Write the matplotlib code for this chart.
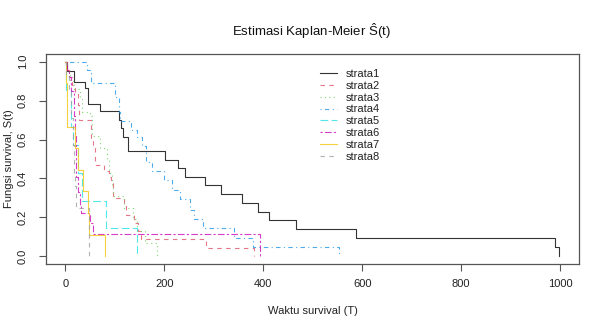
"""Kaplan-Meier curves per stratum."""

import matplotlib
matplotlib.use('Agg')
import matplotlib.pyplot as plt

plt.rcParams['font.family'] = ['Liberation Sans', 'DejaVu Sans']
plt.rcParams['mathtext.fontset'] = 'custom'
plt.rcParams['mathtext.rm'] = 'Liberation Sans'
plt.rcParams['mathtext.it'] = 'Liberation Sans'

# event times and survival after each step, one pair per stratum
t1 = [3, 17, 40, 45, 46, 71, 109, 112, 117, 126, 127, 201, 228, 242, 283, 314,
      357, 389, 411, 467, 587, 989, 998]
s1 = [0.955, 0.898, 0.864, 0.82, 0.784, 0.745, 0.70, 0.657, 0.615, 0.575, 0.54,
      0.497, 0.455, 0.41, 0.364, 0.318, 0.273, 0.229, 0.184, 0.138, 0.092, 0.046, 0.0]

t2 = [3, 8, 14, 20, 25, 28, 52, 56, 61, 79, 88, 92, 96, 118, 123, 138, 146, 153, 284, 382]
s2 = [0.96, 0.92, 0.88, 0.84, 0.78, 0.70, 0.607, 0.565, 0.47, 0.437, 0.41, 0.38, 0.30,
      0.258, 0.212, 0.172, 0.13, 0.087, 0.044, 0.0]

t3 = [3, 10, 17, 29, 34, 50, 54, 71, 84, 89, 94, 96, 118, 136, 145, 162, 185]
s3 = [0.95, 0.9, 0.86, 0.82, 0.744, 0.719, 0.616, 0.556, 0.497, 0.43, 0.36, 0.31,
      0.25, 0.19, 0.13, 0.07, 0.0]

t4 = [44, 52, 101, 109, 111, 133, 145, 155, 163, 176, 199, 216, 231, 251, 261, 278,
      340, 380, 554]
s4 = [0.957, 0.889, 0.82, 0.744, 0.698, 0.65, 0.611, 0.565, 0.483, 0.437, 0.39, 0.34,
      0.292, 0.24, 0.193, 0.147, 0.096, 0.05, 0.0]

t5 = [2, 12, 15, 25, 34, 82, 145]
s5 = [0.857, 0.667, 0.571, 0.429, 0.286, 0.143, 0.0]

t6 = [3, 8, 11, 17, 19, 21, 22, 25, 29, 32, 50, 55, 393]
s6 = [0.96, 0.92, 0.85, 0.72, 0.62, 0.52, 0.41, 0.33, 0.26, 0.22, 0.17, 0.113, 0.0]

t7 = [1, 3, 4, 19, 25, 35, 46, 48, 79.5]
s7 = [0.889, 0.778, 0.667, 0.556, 0.444, 0.333, 0.222, 0.111, 0.0]

t8 = [2, 8, 12, 15, 17, 19, 21, 47]
s8 = [0.93, 0.86, 0.71, 0.57, 0.43, 0.36, 0.25, 0.0]

labels = ['strata1', 'strata2', 'strata3', 'strata4',
          'strata5', 'strata6', 'strata7', 'strata8']

# R default palette and lty 1..6,1,2
colors = ['#000000', '#DF536B', '#61D04F', '#2297E6',
          '#28E2E5', '#CD0BBC', '#F5C710', '#9E9E9E']
styles = ['-', (0, (4, 4)), (0, (1, 3)), (0, (1, 3, 4, 3)),
          (0, (7, 3)), (0, (2, 2, 6, 2)), '-', (0, (4, 4))]

fig = plt.figure(figsize=(6.02, 3.32), dpi=100)
ax = fig.add_axes([0.0764, 0.2048, 0.8854, 0.6325])

all_t = [t1, t2, t3, t4, t5, t6, t7, t8]
all_s = [s1, s2, s3, s4, s5, s6, s7, s8]
for t, s, c, ls, lab in zip(all_t, all_s, colors, styles, labels):
  ax.step([0] + t, [1.0] + s, where='post', color=c, linestyle=ls,
          linewidth=0.8, alpha=0.8, label=lab)

ax.set_xlim(-39, 1038)
ax.set_ylim(-0.04, 1.04)
ax.set_xticks([0, 200, 400, 600, 800, 1000])
ax.set_yticks([0.0, 0.2, 0.4, 0.6, 0.8, 1.0])
ax.set_yticklabels(['0.0', '0.2', '0.4', '0.6', '0.8', '1.0'], rotation=90, va='center')
ax.tick_params(length=5, width=0.8, labelsize=8, color='#555555', labelcolor='#222222')
ax.tick_params(axis='x', pad=6)
ax.tick_params(axis='y', pad=8)
for sp in ax.spines.values():
  sp.set_color('#555555')
  sp.set_linewidth(0.9)

ax.set_xlabel('Waktu survival (T)', fontsize=8, labelpad=12, color='#222222')
ax.set_ylabel('Fungsi survival, S(t)', fontsize=8, color='#222222')
ax.yaxis.set_label_coords(-0.06, 0.5)
fig.text(0.518, 0.905, r'Estimasi Kaplan-Meier $\hat{\mathrm{S}}$(t)',
         ha='center', va='center', fontsize=9.5, color='#111111')

leg = ax.legend(loc='upper left', bbox_to_anchor=(0.5, 0.965), frameon=False,
                fontsize=8, handlelength=1.55, handletextpad=0.75, labelspacing=0.16,
                borderpad=0.2)
for txt in leg.get_texts():
  txt.set_color('#222222')

fig.savefig('out.png', dpi=100)
